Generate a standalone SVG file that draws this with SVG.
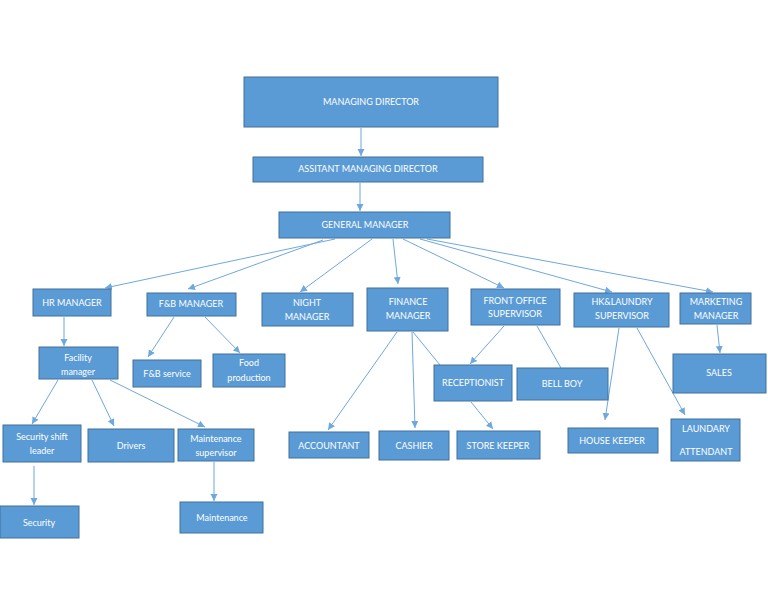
<svg xmlns="http://www.w3.org/2000/svg" width="768" height="594" viewBox="0 0 768 594">
<style>
.box{fill:#5b9bd5;stroke:#41719c;stroke-width:1}
.t{font-family:Lato,"Liberation Sans",sans-serif;font-size:9px;fill:#ffffff;text-anchor:middle}
.c{stroke:#6fa8dc;stroke-width:1;fill:none}
.a{marker-end:url(#ah)}
</style>
<defs>
<marker id="ah" markerWidth="8" markerHeight="8" refX="7" refY="4" orient="auto" markerUnits="userSpaceOnUse">
<path d="M0,0.5 L7,4 L0,7.5 Z" fill="#6fa8dc"/>
</marker>
</defs>
<rect width="768" height="594" fill="#ffffff"/>
<g id="connectors">
<line class="c a" x1="361" y1="128" x2="361" y2="156"/>
<line class="c a" x1="360" y1="183" x2="360" y2="211"/>
<line class="c a" x1="335" y1="239" x2="105" y2="288"/>
<line class="c a" x1="323" y1="240" x2="188" y2="289"/>
<line class="c a" x1="372" y1="239" x2="300" y2="292"/>
<line class="c a" x1="393" y1="239" x2="398" y2="284"/>
<line class="c a" x1="403" y1="239" x2="504" y2="288"/>
<line class="c a" x1="420" y1="239" x2="612" y2="292"/>
<line class="c a" x1="427" y1="239" x2="713" y2="292"/>
<line class="c a" x1="64" y1="317" x2="64" y2="346"/>
<line class="c a" x1="174" y1="317" x2="148" y2="357"/>
<line class="c a" x1="205" y1="317" x2="240" y2="353"/>
<line class="c a" x1="58" y1="380" x2="32" y2="424"/>
<line class="c a" x1="92" y1="380" x2="114" y2="426"/>
<line class="c a" x1="110" y1="380" x2="205" y2="427"/>
<line class="c a" x1="34" y1="466" x2="34" y2="505"/>
<line class="c a" x1="214" y1="462" x2="214" y2="501"/>
<line class="c a" x1="397" y1="332" x2="328" y2="430"/>
<line class="c a" x1="412" y1="332" x2="415" y2="428"/>
<line class="c" x1="413" y1="332" x2="440" y2="365"/>
<line class="c a" x1="504" y1="326" x2="470" y2="364"/>
<line class="c" x1="537" y1="326" x2="561" y2="368"/>
<line class="c a" x1="471" y1="402" x2="493" y2="429"/>
<line class="c a" x1="619" y1="328" x2="605" y2="420"/>
<line class="c a" x1="637" y1="328" x2="685" y2="415"/>
<line class="c a" x1="717" y1="325" x2="720" y2="353"/>
</g>
<g id="md"><rect class="box" x="244" y="77" width="254" height="50"/><text class="t" x="371" y="105">MANAGING DIRECTOR</text></g>
<g id="amd"><rect class="box" x="253" y="157" width="230" height="25"/><text class="t" x="368" y="172">ASSITANT MANAGING DIRECTOR</text></g>
<g id="gm"><rect class="box" x="279" y="212" width="171" height="26"/><text class="t" x="365" y="228">GENERAL MANAGER</text></g>
<g id="hr"><rect class="box" x="33" y="289" width="78" height="27"/><text class="t" x="72" y="306">HR MANAGER</text></g>
<g id="fb"><rect class="box" x="147" y="293" width="89" height="23"/><text class="t" x="191" y="307">F&amp;B MANAGER</text></g>
<g id="night"><rect class="box" x="262" y="293" width="91" height="33"/><text class="t" x="307" y="306">NIGHT</text><text class="t" x="307" y="320">MANAGER</text></g>
<g id="finance"><rect class="box" x="367" y="288" width="81" height="43"/><text class="t" x="408" y="305">FINANCE</text><text class="t" x="408" y="319">MANAGER</text></g>
<g id="frontoffice"><rect class="box" x="471" y="289" width="89" height="36"/><text class="t" x="515" y="304">FRONT OFFICE</text><text class="t" x="515" y="317">SUPERVISOR</text></g>
<g id="hk"><rect class="box" x="574" y="293" width="95" height="34"/><text class="t" x="622" y="305">HK&amp;LAUNDRY</text><text class="t" x="622" y="319">SUPERVISOR</text></g>
<g id="marketing"><rect class="box" x="680" y="293" width="71" height="31"/><text class="t" x="716" y="305">MARKETING</text><text class="t" x="716" y="319">MANAGER</text></g>
<g id="facility"><rect class="box" x="39" y="347" width="79" height="32"/><text class="t" x="78" y="361">Facility</text><text class="t" x="78" y="375">manager</text></g>
<g id="fbservice"><rect class="box" x="133" y="360" width="68" height="27"/><text class="t" x="167" y="377">F&amp;B service</text></g>
<g id="food"><rect class="box" x="213" y="354" width="72" height="33"/><text class="t" x="249" y="366">Food</text><text class="t" x="249" y="381">production</text></g>
<g id="receptionist"><rect class="box" x="434" y="365" width="78" height="36"/><text class="t" x="473" y="386">RECEPTIONIST</text></g>
<g id="bellboy"><rect class="box" x="517" y="368" width="91" height="32"/><text class="t" x="562" y="387">BELL BOY</text></g>
<g id="sales"><rect class="box" x="673" y="354" width="93" height="39"/><text class="t" x="719" y="376">SALES</text></g>
<g id="secshift"><rect class="box" x="3" y="425" width="78" height="37"/><text class="t" x="42" y="440">Security shift</text><text class="t" x="42" y="454">leader</text></g>
<g id="drivers"><rect class="box" x="88" y="429" width="86" height="33"/><text class="t" x="131" y="449">Drivers</text></g>
<g id="maintsup"><rect class="box" x="178" y="429" width="76" height="32"/><text class="t" x="216" y="442">Maintenance</text><text class="t" x="216" y="456">supervisor</text></g>
<g id="accountant"><rect class="box" x="289" y="432" width="80" height="26"/><text class="t" x="329" y="449">ACCOUNTANT</text></g>
<g id="cashier"><rect class="box" x="379" y="431" width="70" height="29"/><text class="t" x="414" y="449">CASHIER</text></g>
<g id="storekeeper"><rect class="box" x="457" y="431" width="83" height="28"/><text class="t" x="498" y="449">STORE KEEPER</text></g>
<g id="housekeeper"><rect class="box" x="568" y="428" width="90" height="25"/><text class="t" x="612" y="444">HOUSE KEEPER</text></g>
<g id="laundary"><rect class="box" x="671" y="419" width="69" height="42"/><text class="t" x="706" y="432">LAUNDARY</text><text class="t" x="706" y="455">ATTENDANT</text></g>
<g id="security"><rect class="box" x="0" y="506" width="79" height="32"/><text class="t" x="39" y="526">Security</text></g>
<g id="maintenance"><rect class="box" x="180" y="502" width="83" height="31"/><text class="t" x="222" y="521">Maintenance</text></g>
</svg>
